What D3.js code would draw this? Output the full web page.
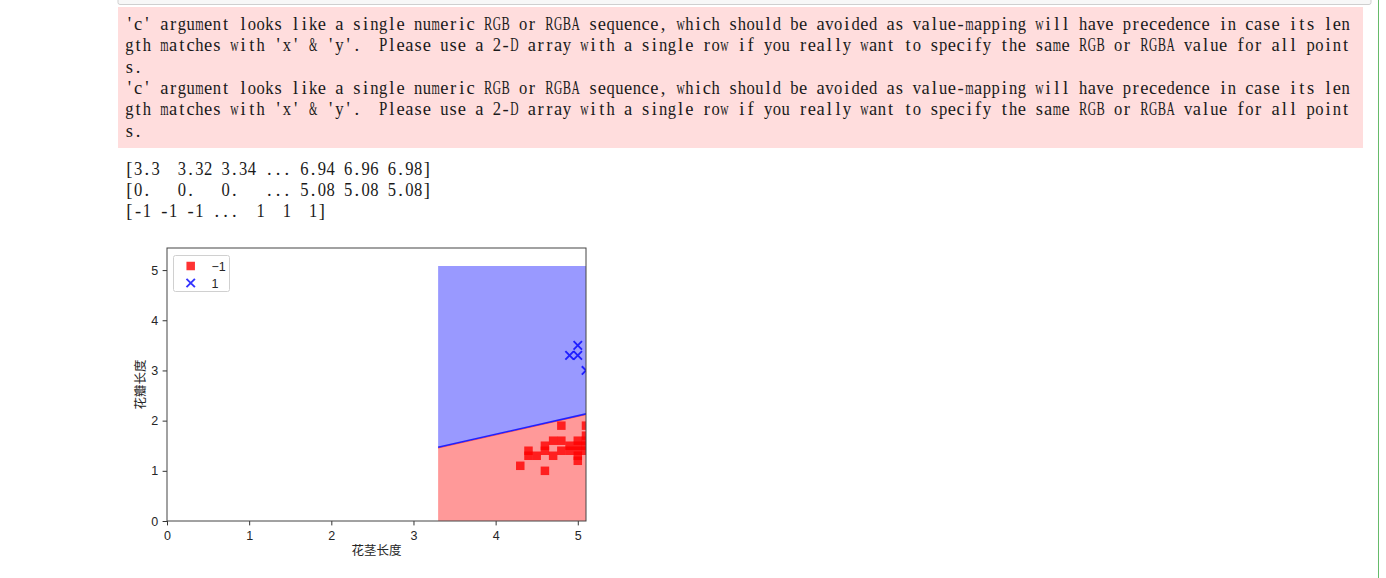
<!DOCTYPE html>
<html>
<head>
<meta charset="utf-8">
<script src="https://cdn.jsdelivr.net/npm/d3@7"></script>
<style>
  html, body { margin: 0; padding: 0; background: #fff; }
  svg { display: block; }
</style>
</head>
<body>
<div id="page"></div>
<script>
// notebook output above the plot
const warnLines = [
  "'c' argument looks like a single numeric RGB or RGBA sequence, which should be avoided as value-mapping will have precedence in case its len",
  "gth matches with 'x' & 'y'.  Please use a 2-D array with a single row if you really want to specify the same RGB or RGBA value for all point",
  "s.",
  "'c' argument looks like a single numeric RGB or RGBA sequence, which should be avoided as value-mapping will have precedence in case its len",
  "gth matches with 'x' & 'y'.  Please use a 2-D array with a single row if you really want to specify the same RGB or RGBA value for all point",
  "s."
];
const printLines = [
  "[3.3  3.32 3.34 ... 6.94 6.96 6.98]",
  "[0.   0.   0.   ... 5.08 5.08 5.08]",
  "[-1 -1 -1 ...  1  1  1]"
];

// plot data
const xTicks = [0, 1, 2, 3, 4, 5];
const yTicks = [0, 1, 2, 3, 4, 5];
const gridX = [3.3, 6.98];          // meshgrid x range
const gridY = [0, 5.08];            // meshgrid y range
const boundaryX = [3.3, 6.98];      // decision boundary
const boundaryY = [1.47, 2.83];
const redX = [4.3, 4.4, 4.4, 4.5, 4.6, 4.6, 4.6, 4.7, 4.7, 4.8, 4.8, 4.8, 4.9, 4.9, 5.0, 5.0, 5.0, 5.0, 5.0, 5.1, 5.1, 5.1, 5.1, 5.1];
const redY = [1.1, 1.3, 1.4, 1.3, 1.0, 1.4, 1.5, 1.3, 1.6, 1.4, 1.6, 1.9, 1.4, 1.5, 1.2, 1.3, 1.4, 1.5, 1.6, 1.4, 1.5, 1.6, 1.7, 1.9];
const blueX = [4.9, 5.0, 5.0, 5.1];
const blueY = [3.3, 3.3, 3.5, 3.0];
const legendLabels = ["\u22121", "1"];

const W = 1386, H = 578;
const svg = d3.select("#page").append("svg")
    .attr("width", W)
    .attr("height", H);

// cell chrome
svg.append("rect")
    .attr("x", 118).attr("y", -10)
    .attr("width", 1253).attr("height", 14.5)
    .attr("rx", 2)
    .attr("fill", "#f7f7f7")
    .attr("stroke", "#cfcfcf");
svg.append("rect")
    .attr("x", 118).attr("y", 7)
    .attr("width", 1245).attr("height", 141)
    .attr("fill", "#ffdddd");
svg.append("line")
    .attr("x1", 1378.5).attr("x2", 1378.5)
    .attr("y1", 0).attr("y2", H)
    .attr("stroke", "#66bb6a");

// monospace text drawn char by char so a serif face keeps fixed cells
const cellW = 8.75;
const monoFont = "18.5px 'Liberation Serif'";
const ctx = document.createElement("canvas").getContext("2d");
ctx.font = monoFont;

function monoLine(str, x0, yb) {
  const g = svg.append("g");
  str.split("").forEach(function(ch, i) {
    if (ch === " ") return;
    const w = ctx.measureText(ch).width;
    const sx = Math.min(1, 8.3 / w);
    g.append("text")
        .attr("transform", "translate(" + (x0 + i * cellW + cellW / 2) + "," + yb + ") scale(" + sx + ",1)")
        .attr("text-anchor", "middle")
        .style("font", monoFont)
        .attr("fill", "#1a1a1a")
        .text(ch);
  });
}

warnLines.forEach(function(s, i) { monoLine(s, 125, 30 + i * 21.33); });
printLines.forEach(function(s, i) { monoLine(s, 125, 174.5 + i * 21.33); });

// plot
const axL = 167, axR = 586, axT = 248, axB = 521;
const x = d3.scaleLinear().domain([0, 5.1]).range([axL, axR]);
const y = d3.scaleLinear().domain([0, 5.44]).range([axB, axT]);

svg.append("clipPath").attr("id", "axclip")
  .append("rect")
    .attr("x", axL).attr("y", axT)
    .attr("width", axR - axL).attr("height", axB - axT);

const plot = svg.append("g").attr("clip-path", "url(#axclip)");

// decision regions
const bx0 = x(boundaryX[0]), bx1 = x(boundaryX[1]);
const by0 = y(boundaryY[0]), by1 = y(boundaryY[1]);
plot.append("path")
    .attr("d", "M" + x(gridX[0]) + "," + y(gridY[1]) + "H" + x(gridX[1]) + "V" + by1 + "L" + bx0 + "," + by0 + "Z")
    .attr("fill", "#9999ff");
plot.append("path")
    .attr("d", "M" + bx0 + "," + by0 + "L" + bx1 + "," + by1 + "V" + y(gridY[0]) + "H" + x(gridX[0]) + "Z")
    .attr("fill", "#ff9999");
plot.append("line")
    .attr("x1", bx0).attr("y1", by0 + 0.8)
    .attr("x2", bx1).attr("y2", by1 + 0.8)
    .attr("stroke", "#ff5050")
    .attr("stroke-width", 1);
plot.append("line")
    .attr("x1", bx0).attr("y1", by0)
    .attr("x2", bx1).attr("y2", by1)
    .attr("stroke", "#2020ff")
    .attr("stroke-width", 1.6);

// samples
const ms = 8.5;
plot.selectAll("rect.neg")
  .data(d3.range(redX.length))
  .join("rect")
    .attr("class", "neg")
    .attr("x", i => x(redX[i]) - ms / 2)
    .attr("y", i => y(redY[i]) - ms / 2)
    .attr("width", ms).attr("height", ms)
    .attr("fill", "red")
    .attr("fill-opacity", 0.8);

function cross(sel, cx, cy, r) {
  sel.append("path")
      .attr("d", "M" + (cx - r) + "," + (cy - r) + "L" + (cx + r) + "," + (cy + r) +
                 "M" + (cx - r) + "," + (cy + r) + "L" + (cx + r) + "," + (cy - r))
      .attr("stroke", "blue")
      .attr("stroke-opacity", 0.8)
      .attr("stroke-width", 1.9)
      .attr("fill", "none");
}
blueX.forEach(function(v, i) { cross(plot, x(v), y(blueY[i]), 4.2); });

// axes
function styleTicks(sel) {
  sel.style("font-family", "'Liberation Sans', Arial, sans-serif")
     .style("font-size", "12.5px")
     .attr("fill", "#262626");
}
const xAxis = svg.append("g")
    .attr("transform", "translate(0," + axB + ")")
    .call(d3.axisBottom(x).tickValues(xTicks).tickFormat(d3.format("d"))
      .tickSize(4.4).tickPadding(5.5).tickSizeOuter(0));
const yAxis = svg.append("g")
    .attr("transform", "translate(" + axL + ",0)")
    .call(d3.axisLeft(y).tickValues(yTicks).tickFormat(d3.format("d"))
      .tickSize(4.4).tickPadding(4.5).tickSizeOuter(0));
[xAxis, yAxis].forEach(function(a) {
  a.select(".domain").remove();
  a.selectAll("line").attr("stroke", "#333");
  a.selectAll("text").call(styleTicks);
});

svg.append("rect")
    .attr("x", axL).attr("y", axT)
    .attr("width", axR - axL).attr("height", axB - axT)
    .attr("fill", "none")
    .attr("stroke", "#444")
    .attr("stroke-width", 1);

function styleCjk(sel) {
  sel.style("font-family", "'Noto Sans CJK SC', sans-serif")
     .style("font-size", "12.5px")
     .attr("fill", "#262626");
}
svg.append("text")
    .attr("x", (axL + axR) / 2).attr("y", 555)
    .attr("text-anchor", "middle")
    .call(styleCjk)
    .text("花茎长度");
svg.append("text")
    .attr("transform", "translate(145," + (axT + axB) / 2 + ") rotate(-90)")
    .attr("text-anchor", "middle")
    .call(styleCjk)
    .text("花瓣长度");

// legend
const lg = svg.append("g");
lg.append("rect")
    .attr("x", 173.5).attr("y", 255.5)
    .attr("width", 56).attr("height", 36)
    .attr("rx", 2)
    .attr("fill", "#fff").attr("fill-opacity", 0.8)
    .attr("stroke", "#d0d0d0");
lg.append("rect")
    .attr("x", 190.7 - ms / 2).attr("y", 266 - ms / 2)
    .attr("width", ms).attr("height", ms)
    .attr("fill", "red").attr("fill-opacity", 0.8);
cross(lg, 190.7, 283, 4.2);
legendLabels.forEach(function(t, i) {
  lg.append("text")
      .attr("x", 211.5).attr("y", 270.5 + i * 17)
      .call(styleTicks)
      .text(t);
});
</script>
</body>
</html>
